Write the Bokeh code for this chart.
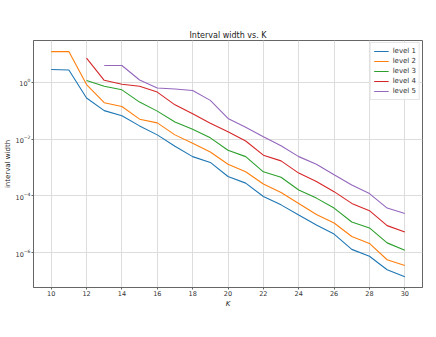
from bokeh.plotting import figure
from bokeh.models import FixedTicker, Legend, LegendItem, Range1d
from bokeh.embed import file_html
from bokeh.resources import INLINE

K1 = list(range(10, 31))
K3 = list(range(12, 31))
K5 = list(range(13, 31))

level1 = [2.8, 2.7, 0.28, 0.10, 0.066, 0.029, 0.014, 0.0056, 0.0024, 0.0015,
          4.8e-4, 2.8e-4, 9.5e-5, 4.8e-5, 2.1e-5, 9.4e-6, 4.5e-6, 1.3e-6, 7.4e-7, 2.5e-7, 1.4e-7]
level2 = [12.0, 12.0, 0.83, 0.19, 0.14, 0.05, 0.037, 0.014, 0.0071, 0.0035,
          1.3e-3, 7.0e-4, 2.6e-4, 1.3e-4, 5.4e-5, 2.2e-5, 1.1e-5, 3.7e-6, 2.1e-6, 5.6e-7, 3.5e-7]
level3 = [1.15, 0.72, 0.54, 0.2, 0.096, 0.04, 0.022, 0.011, 0.004,
          2.4e-3, 7.0e-4, 4.5e-4, 1.6e-4, 8.3e-5, 3.7e-5, 1.2e-5, 7.4e-6, 2.2e-6, 1.2e-6]
level4 = [7.1, 1.17, 0.85, 0.72, 0.45, 0.16, 0.077, 0.036, 0.018,
          8.5e-3, 2.7e-3, 1.7e-3, 6.3e-4, 3.2e-4, 1.4e-4, 5.4e-5, 3.0e-5, 8.9e-6, 5.3e-6]
level5 = [3.9, 3.9, 1.2, 0.63, 0.58, 0.51, 0.23, 0.053,
          0.026, 0.012, 5.8e-3, 2.4e-3, 1.3e-3, 5.5e-4, 2.4e-4, 1.2e-4, 3.7e-5, 2.4e-5]

series = [("level 1", K1, level1, "#1f77b4"),
          ("level 2", K1, level2, "#ff7f0e"),
          ("level 3", K3, level3, "#2ca02c"),
          ("level 4", K3, level4, "#d62728"),
          ("level 5", K5, level5, "#9467bd")]

x_ticks = list(range(10, 31, 2))
y_ticks = [1e-6, 1e-4, 1e-2, 1.0]

p = figure(width=426, height=310, output_backend="svg", toolbar_location=None,
           y_axis_type="log", x_range=Range1d(9, 31), y_range=Range1d(5.9e-8, 29.5),
           title="Interval width vs. K", min_border_left=0, min_border_right=4,
           min_border_top=40, min_border_bottom=22)

items = []
for name, xs, ys, col in series:
    r = p.line(xs, ys, line_color=col, line_width=1.1)
    items.append(LegendItem(label=name, renderers=[r]))

legend = Legend(items=items, location="top_right", label_text_font_size="7px",
                label_text_color="#333333", glyph_width=15, glyph_height=10,
                label_height=10, spacing=0, padding=3, margin=2,
                label_standoff=4,
                border_line_color="#cccccc", background_fill_alpha=0.8,
                label_text_font="DejaVu Sans")
p.add_layout(legend)

p.title.align = "center"
p.title.text_font = "DejaVu Sans"
p.title.text_font_size = "8px"
p.title.text_font_style = "normal"
p.title.text_color = "#222222"
p.title.standoff = 2

p.xaxis.ticker = FixedTicker(ticks=x_ticks)
p.yaxis.ticker = FixedTicker(ticks=y_ticks, minor_ticks=[])
p.xaxis.axis_label = "K"
p.yaxis.axis_label = "interval width"
for ax in (p.xaxis[0], p.yaxis[0]):
    ax.axis_label_text_font = "DejaVu Sans"
    ax.axis_label_text_font_size = "7px"
    ax.axis_label_text_color = "#222222"
    ax.major_label_text_font = "DejaVu Sans"
    ax.major_label_text_font_size = "6.5px"
    ax.major_label_text_color = "#333333"
    ax.axis_line_color = "#666666"
    ax.major_tick_line_color = "#666666"
    ax.major_tick_out = 2
    ax.major_tick_in = 0
    ax.minor_tick_line_color = None
    ax.axis_label_standoff = 1
    ax.major_label_standoff = 1
p.xaxis.axis_label_text_font_style = "italic"
p.yaxis.axis_label_text_font_style = "normal"

p.xgrid.ticker = FixedTicker(ticks=x_ticks)
p.ygrid.ticker = FixedTicker(ticks=y_ticks)
p.grid.grid_line_color = "#dddddd"
p.grid.grid_line_width = 1
p.outline_line_color = "#666666"
p.outline_line_width = 1

open("out.html", "w").write(file_html(p, INLINE))
